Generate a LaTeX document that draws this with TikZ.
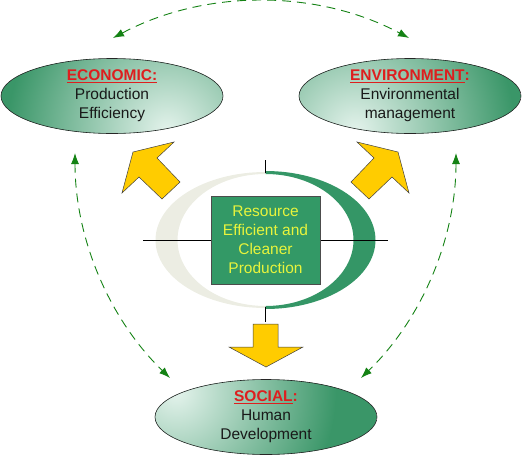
\documentclass[tikz,border=0pt]{standalone}
\usepackage{fontspec}
\setmainfont{Liberation Sans}
\usetikzlibrary{shapes.geometric,arrows.meta,calc}

\definecolor{pillardark}{RGB}{58,150,104}
\definecolor{pillarlight}{RGB}{228,243,236}
\definecolor{ringgreen}{RGB}{52,150,102}
\definecolor{ringgrey}{RGB}{236,237,227}
\definecolor{boxgreen}{RGB}{51,153,102}
\definecolor{boxtext}{RGB}{232,244,60}
\definecolor{labelred}{RGB}{222,30,30}
\definecolor{arrowyellow}{RGB}{255,204,0}
\definecolor{cyclegreen}{RGB}{20,130,20}

\newcommand{\pillarhead}[2]{\textcolor{labelred}{\textbf{\underline{#1}#2}}}

\begin{document}
\begin{tikzpicture}[x=1pt, y=-1pt,
  every node/.style={font=\fontsize{15.5}{19}\selectfont, align=center, text=black!90},
  pillar/.style={ellipse, draw=black!85, line width=0.6pt,
                 minimum width=222pt, minimum height=75pt, inner sep=0pt,
                 path picture={\fill[pillardark] (path picture bounding box.south west)
                                 rectangle (path picture bounding box.north east);
                               \shade[inner color=pillarlight, outer color=pillardark]
                   ($(path picture bounding box.center)+(#1)$) circle (160pt);}},
  bigarrow/.style={fill=arrowyellow, draw=black!75, line width=0.5pt, line join=miter},
  cycle/.style={cyclegreen, line width=0.9pt, dash pattern=on 9pt off 6pt,
                {Latex[length=11pt,width=8pt]}-{Latex[length=11pt,width=8pt]}}]
  \useasboundingbox (0,0) rectangle (531,456);

  % ring behind the box
  \begin{scope}
    \clip (140,150) rectangle (265.5,330);
    \fill[ringgrey, even odd rule] (265.5,240) ellipse [x radius=110, y radius=68]
                                   (265.5,240) ellipse [x radius=88, y radius=66];
  \end{scope}
  \begin{scope}
    \clip (265.5,150) rectangle (390,330);
    \fill[ringgreen, even odd rule] (265.5,240) ellipse [x radius=110, y radius=69]
                                    (265.5,240) ellipse [x radius=88, y radius=66];
  \end{scope}

  \draw (143,240) -- (388,240);
  \draw (265.5,160) -- (265.5,173);
  \draw (265.5,307) -- (265.5,322);

  \node[draw=black!70, fill=boxgreen, text=boxtext, minimum width=109pt,
        minimum height=88pt] (rcp) at (265.5,240) {Resource\\Efficient and\\Cleaner\\Production};

  % yellow arrows
  \foreach \s in {1,-1}
    \draw[bigarrow, xshift=265.5pt, xscale=\s] (-132.5,152) -- (-91.5,142) -- (-108.5,158)
      -- (-85.5,182) -- (-103.5,199) -- (-126.5,177) -- (-143.5,193) -- cycle;
  \draw[bigarrow] (253,324) -- (278,324) -- (278,347) -- (303,347) -- (266,367)
    -- (229,347) -- (253,347) -- cycle;

  % the three pillars
  \node[pillar={55,35}] (econ) at (112,96) {\pillarhead{ECONOMIC:}{}\\Production\\Efficiency};
  \node[pillar={-55,35}] (env) at (410,96) {\pillarhead{ENVIRONMENT}{:}\\Environmental\\management};
  \node[pillar={-90,-25}] (social) at (266,417) {\pillarhead{SOCIAL}{:}\\Human\\Development};

  \coordinate (econ top) at (113,38);
  \coordinate (env top) at (409,38);
  \coordinate (econ side) at (75,153);
  \coordinate (env side) at (456,153);
  \coordinate (social left) at (170,378);
  \coordinate (social right) at (361,378);

  \draw[cycle] (econ top) .. controls (205,-11) and (317,-11) .. (env top);
  \draw[cycle] (econ side) .. controls (75,238) and (109,319) .. (social left);
  \draw[cycle] (env side) .. controls (456,238) and (422,319) .. (social right);
\end{tikzpicture}
\end{document}
